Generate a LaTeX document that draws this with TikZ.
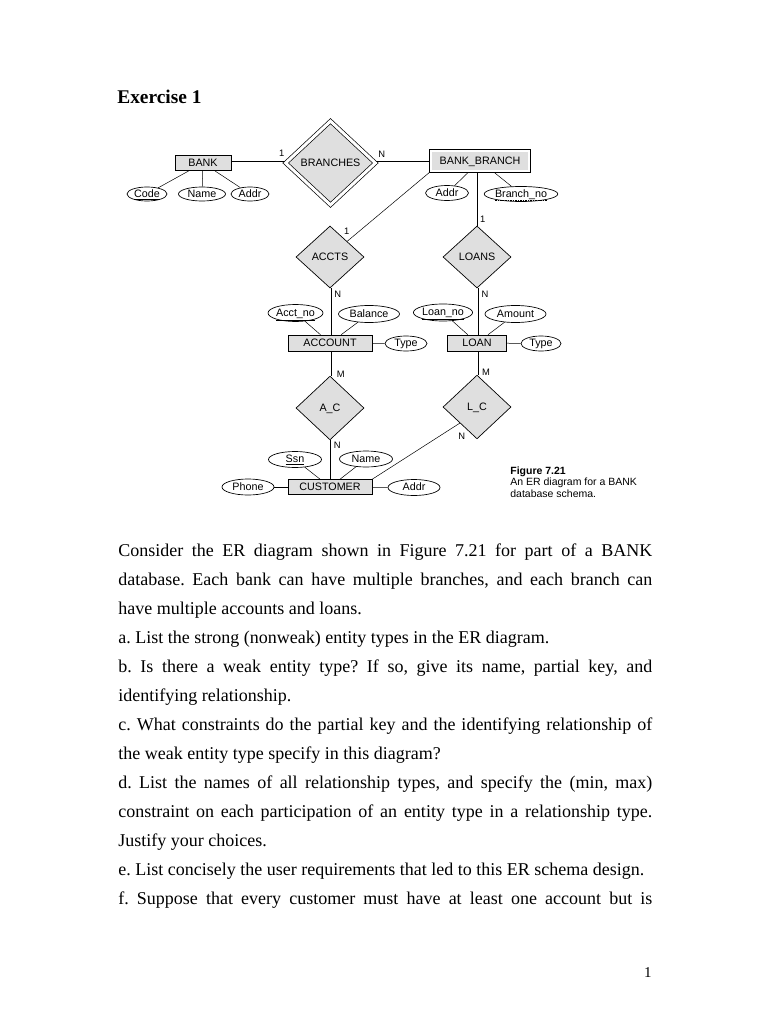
\documentclass[tikz,border=0pt]{standalone}
\usepackage{fontspec}
\setmainfont{Liberation Serif}
\setsansfont{Liberation Sans}
\usetikzlibrary{positioning}
\usetikzlibrary{shapes}
\usetikzlibrary{backgrounds}

\begin{document}
\begin{tikzpicture}[x=0.8pt, y=-0.8pt, line width=0.55pt,
        font=\sffamily\fontsize{8.6}{10}\selectfont,
        entity/.style={draw, fill=gray!25, inner sep=0pt, minimum width=#1, minimum height=12.8pt, text height=6.2pt, text depth=0.8pt},
        weakentity/.style={entity=#1, double, double distance=1.6pt, minimum height=16.6pt},
        relation/.style={diamond, draw, fill=gray!25, inner sep=0pt, minimum width=54.4pt, minimum height=49.6pt, text height=6.2pt, text depth=0.8pt},
        idrelation/.style={relation, double, double distance=2.4pt, minimum width=72pt, minimum height=67.2pt},
        attr/.style={ellipse, draw, fill=white, inner sep=0pt, minimum width=#1, minimum height=12.8pt, text height=6.2pt, text depth=1pt},
        card/.style={inner sep=0pt, font=\sffamily\fontsize{7.5}{9}\selectfont},
        total/.style={double, double distance=1.6pt}]

    \useasboundingbox (0,0) rectangle (768,1024);

    \node[anchor=base west, inner sep=0pt, font=\rmfamily\bfseries\fontsize{15.5}{18}\selectfont] (title) at (117,104) {Exercise 1};

    % Entity types
    \node[entity=44.8pt, minimum height=12pt] (bank) at (203,163) {BANK};
    \node[weakentity=79pt] (bbranch) at (480,161) {BANK\_BRANCH};
    \node[entity=67.2pt] (account) at (330,343) {ACCOUNT};
    \node[entity=47.2pt] (loan) at (477,343) {LOAN};
    \node[entity=67.2pt, minimum height=12pt] (customer) at (330,487) {CUSTOMER};

    % Relationship types
    \node[idrelation] (branches) at (330.5,163) {BRANCHES};
    \node[relation] (accts) at (330,257) {ACCTS};
    \node[relation] (loans) at (477,257) {LOANS};
    \node[relation, minimum height=51pt] (ac) at (330,408) {A\_C};
    \node[relation, minimum height=51pt] (lc) at (477,407) {L\_C};

    % Attributes
    \node[attr=32pt, minimum height=11.2pt] (bcode) at (147,194) {\underline{Code}};
    \node[attr=37.6pt, minimum height=11.2pt] (bname) at (202,194) {Name};
    \node[attr=30.4pt, minimum height=11.2pt] (baddr) at (250,194) {Addr};
    \node[attr=34.4pt, minimum height=12pt] (bbaddr) at (447,193) {Addr};
    \node[attr=57.6pt, minimum height=12pt] (bbno) at (521,194) {Branch\_no};
    \draw[dash pattern=on 1.2pt off 0.8pt, line width=0.4pt] ([xshift=-20.5pt, yshift=-4.9pt]bbno.center) -- ([xshift=20.5pt, yshift=-4.9pt]bbno.center);
    \node[attr=41.6pt, minimum height=13.6pt] (acctno) at (295.5,313) {\underline{Acct\_no}};
    \node[attr=48.8pt, minimum height=13.6pt] (balance) at (369,314) {Balance};
    \node[attr=33.6pt, minimum height=12pt] (atype) at (406,343.5) {Type};
    \node[attr=42.4pt, minimum height=13.6pt] (loanno) at (443,312.5) {\underline{Loan\_no}};
    \node[attr=48.8pt, minimum height=13.6pt] (amount) at (515.5,314) {Amount};
    \node[attr=32pt, minimum height=12pt] (ltype) at (541,343.5) {Type};
    \node[attr=42.4pt] (ssn) at (295,459.5) {\underline{Ssn}};
    \node[attr=42.4pt] (cname) at (366,459) {Name};
    \node[attr=41.6pt] (phone) at (248,487) {Phone};
    \node[attr=41.6pt] (caddr) at (414,487.5) {Addr};

    % Cardinalities
    \node[card] (c1) at (281.7,153.3) {1};
    \node[card] (c2) at (381.7,154.3) {N};
    \node[card] (c3) at (346.7,231.7) {1};
    \node[card] (c4) at (482.7,219) {1};
    \node[card] (c5) at (337.7,294.3) {N};
    \node[card] (c6) at (485,294.3) {N};
    \node[card] (c7) at (340.7,374) {M};
    \node[card] (c8) at (486,372.7) {M};
    \node[card] (c9) at (337.3,445.7) {N};
    \node[card] (c10) at (461.7,436) {N};

    \node[anchor=north west, align=left, inner sep=0pt, font=\sffamily\fontsize{8.4}{9.2}\selectfont] (caption) at (510,466.4)
        {\textbf{Figure 7.21}\\An ER diagram for a BANK\\database schema.};

    \begin{scope}[on background layer]
        \fill[white] (0,0) rectangle (768,1024);
        \draw[total] (bank) -- (branches);
        \draw[total] (branches) -- (branches -| bbranch.west);
        \draw (bbranch.south west) -- (accts.north east);
        \draw (loans.north |- bbranch.south) -- (loans);
        \draw[total] (accts) -- (account);
        \draw[total] (loans) -- (loan);
        \draw[total] (account) -- (ac);
        \draw[total] (loan) -- (lc);
        \draw (ac) -- (customer);
        \draw (lc.south west) -- (customer.north east);
        % attribute links
        \draw (bank) -- (bcode);
        \draw (bank) -- (bname);
        \draw (bank) -- (baddr);
        \draw (bbranch) -- (bbaddr);
        \draw (bbranch) -- (bbno);
        \draw (account) -- (acctno);
        \draw (account) -- (balance);
        \draw (account) -- (atype);
        \draw (loan) -- (loanno);
        \draw (loan) -- (amount);
        \draw (loan) -- (ltype);
        \draw (customer) -- (ssn);
        \draw (customer) -- (cname);
        \draw (customer) -- (phone);
        \draw (customer) -- (caddr);
    \end{scope}

    \node[anchor=north west, inner sep=0pt, text width=427.2pt, align=justify,
          font=\rmfamily\fontsize{14.4}{23.2}\selectfont] (questions) at (118,543.7) {\parindent=0pt\hbadness=10000\frenchspacing
        Consider the ER diagram shown in Figure 7.21 for part of a BANK\linebreak
        database. Each bank can have multiple branches, and each branch can\linebreak
        have multiple accounts and loans.\par
        a. List the strong (nonweak) entity types in the ER diagram.\par
        b. Is there a weak entity type? If so, give its name, partial key, and\linebreak
        identifying relationship.\par
        c. What constraints do the partial key and the identifying relationship of\linebreak
        the weak entity type specify in this diagram?\par
        d. List the names of all relationship types, and specify the (min, max)\linebreak
        constraint on each participation of an entity type in a relationship type.\linebreak
        Justify your choices.\par
        e. List concisely the user requirements that led to this ER schema design.\par
        f. Suppose that every customer must have at least one account but is\parfillskip=0pt\par};

    \node[anchor=base east, inner sep=0pt, font=\rmfamily\fontsize{12}{14}\selectfont] (pagenum) at (652,977) {1};
\end{tikzpicture}
\end{document}
